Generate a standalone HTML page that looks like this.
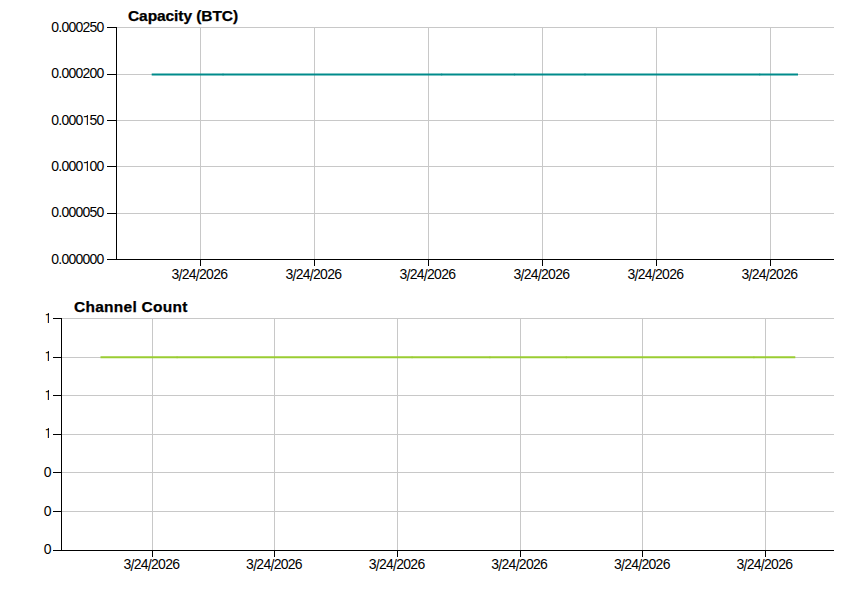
<!DOCTYPE html>
<html><head><meta charset="utf-8"><style>
html,body{margin:0;padding:0;background:#fff;width:860px;height:600px;overflow:hidden;position:relative}
svg{position:absolute;left:0;top:0}
.yl,.xl,.t{position:absolute;font-family:'Liberation Sans', sans-serif;color:#000;white-space:nowrap;line-height:16px}
.yl{font-size:14px;letter-spacing:-0.75px;text-align:right}
.xl{font-size:14px;letter-spacing:-0.72px;width:80px;text-align:center}
.t{font-weight:bold;font-size:15.5px;-webkit-text-stroke:0.25px #000}
.sl{display:inline-block;transform:translateY(1.6px) scaleY(1.14)}
.one{display:inline-block;position:relative;width:7.03px;height:10px}
.one::before{content:'';position:absolute;left:4.2px;top:0;width:1px;height:10px;background:#0a1f55;box-shadow:-1px 0 0 #ffcf8c}
.one::after{content:'';position:absolute;left:1.8px;top:1.2px;width:2.5px;height:1px;background:#000;box-shadow:-1px 0 0 #ffcf8c;transform:rotate(-6deg);transform-origin:100% 0}
</style></head><body>
<svg width="860" height="600" viewBox="0 0 860 600" shape-rendering="crispEdges">
<rect x="117" y="27" width="717" height="1" fill="#c8c8c8"/>
<rect x="117" y="74" width="717" height="1" fill="#c8c8c8"/>
<rect x="117" y="120" width="717" height="1" fill="#c8c8c8"/>
<rect x="117" y="166" width="717" height="1" fill="#c8c8c8"/>
<rect x="117" y="213" width="717" height="1" fill="#c8c8c8"/>
<rect x="200" y="27" width="1" height="232" fill="#c8c8c8"/>
<rect x="314" y="27" width="1" height="232" fill="#c8c8c8"/>
<rect x="428" y="27" width="1" height="232" fill="#c8c8c8"/>
<rect x="542" y="27" width="1" height="232" fill="#c8c8c8"/>
<rect x="656" y="27" width="1" height="232" fill="#c8c8c8"/>
<rect x="770" y="27" width="1" height="232" fill="#c8c8c8"/>
<rect x="116" y="27" width="1" height="233" fill="#000"/>
<rect x="116" y="259" width="718" height="1" fill="#000"/>
<rect x="107" y="27" width="9" height="1" fill="#000"/>
<rect x="107" y="74" width="9" height="1" fill="#000"/>
<rect x="107" y="120" width="9" height="1" fill="#000"/>
<rect x="107" y="166" width="9" height="1" fill="#000"/>
<rect x="107" y="213" width="9" height="1" fill="#000"/>
<rect x="107" y="259" width="9" height="1" fill="#000"/>
<rect x="200" y="259" width="1" height="7" fill="#000"/>
<rect x="314" y="259" width="1" height="7" fill="#000"/>
<rect x="428" y="259" width="1" height="7" fill="#000"/>
<rect x="542" y="259" width="1" height="7" fill="#000"/>
<rect x="656" y="259" width="1" height="7" fill="#000"/>
<rect x="770" y="259" width="1" height="7" fill="#000"/>
<line x1="151.7" y1="74.5" x2="798" y2="74.5" stroke="#008b8b" stroke-width="2" shape-rendering="geometricPrecision"/>
<ellipse cx="223.05" cy="74.5" rx="0.8" ry="1.3" fill="#008b8b" fill-opacity="0.45" shape-rendering="geometricPrecision"/>
<ellipse cx="441.6" cy="74.5" rx="0.8" ry="1.3" fill="#008b8b" fill-opacity="0.45" shape-rendering="geometricPrecision"/>
<ellipse cx="514.5" cy="74.5" rx="0.8" ry="1.3" fill="#008b8b" fill-opacity="0.45" shape-rendering="geometricPrecision"/>
<ellipse cx="585" cy="74.5" rx="0.8" ry="1.3" fill="#008b8b" fill-opacity="0.45" shape-rendering="geometricPrecision"/>
<ellipse cx="759.7" cy="74.5" rx="0.8" ry="1.3" fill="#008b8b" fill-opacity="0.45" shape-rendering="geometricPrecision"/>
<rect x="62" y="318" width="772" height="1" fill="#c8c8c8"/>
<rect x="62" y="357" width="772" height="1" fill="#c8c8c8"/>
<rect x="62" y="395" width="772" height="1" fill="#c8c8c8"/>
<rect x="62" y="434" width="772" height="1" fill="#c8c8c8"/>
<rect x="62" y="472" width="772" height="1" fill="#c8c8c8"/>
<rect x="62" y="511" width="772" height="1" fill="#c8c8c8"/>
<rect x="152" y="318" width="1" height="232" fill="#c8c8c8"/>
<rect x="274" y="318" width="1" height="232" fill="#c8c8c8"/>
<rect x="397" y="318" width="1" height="232" fill="#c8c8c8"/>
<rect x="520" y="318" width="1" height="232" fill="#c8c8c8"/>
<rect x="642" y="318" width="1" height="232" fill="#c8c8c8"/>
<rect x="765" y="318" width="1" height="232" fill="#c8c8c8"/>
<rect x="61" y="318" width="1" height="233" fill="#000"/>
<rect x="61" y="550" width="773" height="1" fill="#000"/>
<rect x="53" y="318" width="8" height="1" fill="#000"/>
<rect x="53" y="357" width="8" height="1" fill="#000"/>
<rect x="53" y="395" width="8" height="1" fill="#000"/>
<rect x="53" y="434" width="8" height="1" fill="#000"/>
<rect x="53" y="472" width="8" height="1" fill="#000"/>
<rect x="53" y="511" width="8" height="1" fill="#000"/>
<rect x="53" y="550" width="8" height="1" fill="#000"/>
<rect x="152" y="550" width="1" height="7" fill="#000"/>
<rect x="274" y="550" width="1" height="7" fill="#000"/>
<rect x="397" y="550" width="1" height="7" fill="#000"/>
<rect x="520" y="550" width="1" height="7" fill="#000"/>
<rect x="642" y="550" width="1" height="7" fill="#000"/>
<rect x="765" y="550" width="1" height="7" fill="#000"/>
<line x1="100.5" y1="357.2" x2="795.3" y2="357.2" stroke="#9acd32" stroke-width="2" shape-rendering="geometricPrecision"/>
<ellipse cx="177.1" cy="357.2" rx="0.8" ry="1.3" fill="#9acd32" fill-opacity="0.45" shape-rendering="geometricPrecision"/>
<ellipse cx="412.1" cy="357.2" rx="0.8" ry="1.3" fill="#9acd32" fill-opacity="0.45" shape-rendering="geometricPrecision"/>
<ellipse cx="489.9" cy="357.2" rx="0.8" ry="1.3" fill="#9acd32" fill-opacity="0.45" shape-rendering="geometricPrecision"/>
<ellipse cx="566.3" cy="357.2" rx="0.8" ry="1.3" fill="#9acd32" fill-opacity="0.45" shape-rendering="geometricPrecision"/>
<ellipse cx="753.9" cy="357.2" rx="0.8" ry="1.3" fill="#9acd32" fill-opacity="0.45" shape-rendering="geometricPrecision"/>
</svg>
<div class="yl" style="right:756.4px;top:19px">0.000250</div>
<div class="yl" style="right:756.4px;top:65px">0.000200</div>
<div class="yl" style="right:756.4px;top:112px">0.000<span class="one"></span>50</div>
<div class="yl" style="right:756.4px;top:158px">0.000<span class="one"></span>00</div>
<div class="yl" style="right:756.4px;top:204px">0.000050</div>
<div class="yl" style="right:756.4px;top:251px">0.000000</div>
<div class="xl" style="left:159.40px;top:266px">3<span class="sl">/</span>24<span class="sl">/</span>2026</div>
<div class="xl" style="left:273.40px;top:266px">3<span class="sl">/</span>24<span class="sl">/</span>2026</div>
<div class="xl" style="left:387.40px;top:266px">3<span class="sl">/</span>24<span class="sl">/</span>2026</div>
<div class="xl" style="left:501.40px;top:266px">3<span class="sl">/</span>24<span class="sl">/</span>2026</div>
<div class="xl" style="left:615.40px;top:266px">3<span class="sl">/</span>24<span class="sl">/</span>2026</div>
<div class="xl" style="left:729.40px;top:266px">3<span class="sl">/</span>24<span class="sl">/</span>2026</div>
<div class="yl" style="right:809.2px;top:310px"><span class="one"></span></div>
<div class="yl" style="right:809.2px;top:348px"><span class="one"></span></div>
<div class="yl" style="right:809.2px;top:387px"><span class="one"></span></div>
<div class="yl" style="right:809.2px;top:425px"><span class="one"></span></div>
<div class="yl" style="right:809.2px;top:464px">0</div>
<div class="yl" style="right:809.2px;top:503px">0</div>
<div class="yl" style="right:809.2px;top:541px">0</div>
<div class="xl" style="left:111.40px;top:556px">3<span class="sl">/</span>24<span class="sl">/</span>2026</div>
<div class="xl" style="left:234.00px;top:556px">3<span class="sl">/</span>24<span class="sl">/</span>2026</div>
<div class="xl" style="left:356.60px;top:556px">3<span class="sl">/</span>24<span class="sl">/</span>2026</div>
<div class="xl" style="left:479.20px;top:556px">3<span class="sl">/</span>24<span class="sl">/</span>2026</div>
<div class="xl" style="left:601.80px;top:556px">3<span class="sl">/</span>24<span class="sl">/</span>2026</div>
<div class="xl" style="left:724.40px;top:556px">3<span class="sl">/</span>24<span class="sl">/</span>2026</div>
<div class="t" style="left:128px;top:7.5px;letter-spacing:-0.08px">Capacity (BTC)</div>
<div class="t" style="left:74px;top:298.5px;letter-spacing:0.27px">Channel Count</div>
</body></html>
